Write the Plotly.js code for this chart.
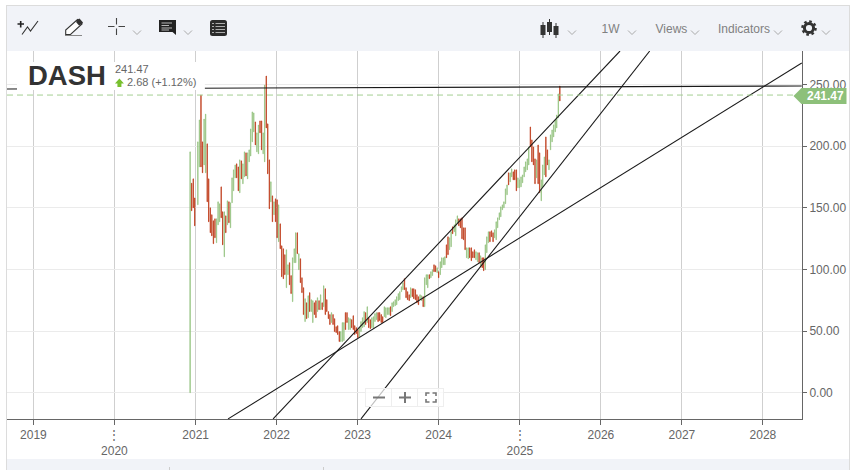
<!DOCTYPE html>
<html>
<head>
<meta charset="utf-8">
<script src="https://cdn.plot.ly/plotly-3.0.1.min.js"></script>
<style>
html,body{margin:0;padding:0;background:#fff;width:858px;height:470px;overflow:hidden}
#chart{position:absolute;left:0;top:0;width:858px;height:470px}
#chrome{position:absolute;left:0;top:0;pointer-events:none}
text{font-family:"Liberation Sans",Arial,sans-serif}
</style>
</head>
<body>
<div id="chart"></div>
<svg id="chrome" width="858" height="470" viewBox="0 0 858 470">
  <!-- frame -->
  <rect x="6.5" y="5.5" width="843" height="470" fill="none" stroke="#dcdcdc"/>
  <rect x="7" y="6" width="842" height="45" fill="#f1f3f8"/>
  <rect x="7" y="459" width="842" height="11" fill="#f1f3f8"/>
  <path d="M169.5 467V470M323.5 467V470" stroke="#ccc"/>
  <!-- add indicator icon -->
  <path d="M17.5 24H24M20.7 21V27.5" stroke="#222" stroke-width="1.6"/>
  <path d="M22 34.5L27.5 27L30.5 31L38 21" fill="none" stroke="#333" stroke-width="1.1"/>
  <!-- pencil -->
  <path d="M65.7 34.5V30L77.5 19.5L82 24L70.5 34.5Z" fill="#fff" stroke="#333" stroke-width="1.1"/>
  <path d="M77.5 19.5L79.5 18.5L83 22.5L82 24L79 25.5L76 22Z" fill="#333"/>
  <path d="M65 35.5H82" stroke="#888"/>
  <!-- crosshair -->
  <path d="M116.5 18V24.5M116.5 28.5V35M108 26.5H114.5M118.5 26.5H125" stroke="#444" stroke-width="1.1"/>
  <!-- note -->
  <path d="M159 20H176V35L172.5 32H159Z" fill="#222"/>
  <path d="M161.5 23H172M161.5 25.5H169M161.5 28H172M161.5 30H169" stroke="#ddd" stroke-width=".8"/>
  <!-- table -->
  <rect x="210" y="20" width="17" height="16" rx="2.5" fill="#2b2b2b"/>
  <path d="M215.5 23.5H225M215.5 26.5H225M215.5 29.5H225M215.5 32.5H225M212 23.5H214M212 26.5H214M212 29.5H214M212 32.5H214" stroke="#bbb" stroke-width=".9"/>
  <!-- candles icon -->
  <path d="M543 22V38M549.5 19V35M556 23V38" stroke="#333" stroke-width="1"/>
  <rect x="540.5" y="25" width="5" height="10" fill="#333"/>
  <rect x="547" y="22" width="5" height="10" fill="#333"/>
  <rect x="553.5" y="26" width="5" height="9" fill="#333"/>
  <!-- chevrons -->
  <g fill="none" stroke="#aaa" stroke-width="1">
    <path d="M133 30.5L137 34.5L141 30.5"/>
    <path d="M184 30.5L188 34.5L192 30.5"/>
    <path d="M568 30.5L572 34.5L576 30.5"/>
    <path d="M628 30.5L632 34.5L636 30.5"/>
    <path d="M691 30.5L695 34.5L699 30.5"/>
    <path d="M774 30.5L778 34.5L782 30.5"/>
    <path d="M822 30.5L826 34.5L830 30.5"/>
  </g>
  <g font-size="12" fill="#808080">
    <text x="601.5" y="33">1W</text>
    <text x="655.5" y="33">Views</text>
    <text x="718" y="33">Indicators</text>
  </g>
  <!-- gear -->
  <circle cx="809" cy="28" r="4.6" fill="none" stroke="#333" stroke-width="3"/>
  <circle cx="809" cy="28" r="6.6" fill="none" stroke="#333" stroke-width="2.4" stroke-dasharray="2.6 2.58"/>
  <!-- zoom controls -->
  <rect x="365.5" y="388.5" width="78" height="18" fill="#fff" fill-opacity=".72" stroke="#eee"/>
  <path d="M391.5 388.5V406.5M417.5 388.5V406.5" stroke="#eee"/>
  <path d="M373 397.5H385M399 397.5H411M405 392V403" stroke="#777" stroke-width="2"/>
  <path d="M426 396V393H429.5M432.5 393H436V396M436 399V402H432.5M429.5 402H426V399" fill="none" stroke="#777" stroke-width="1.6"/>
</svg>
<script>
// Weekly bars (DASH, 1W)
var weeks = [
"2020-12-07","2020-12-14","2020-12-21","2020-12-28",
"2021-01-11","2021-01-18","2021-01-25","2021-02-01","2021-02-08","2021-02-15","2021-02-22","2021-03-01","2021-03-08","2021-03-15","2021-03-22","2021-03-29","2021-04-05","2021-04-12","2021-04-19","2021-04-26","2021-05-03","2021-05-10","2021-05-17","2021-05-24","2021-05-31","2021-06-07","2021-06-14","2021-06-21","2021-06-28","2021-07-05","2021-07-12","2021-07-19","2021-07-26","2021-08-02","2021-08-09","2021-08-16","2021-08-23","2021-08-30","2021-09-06","2021-09-13","2021-09-20","2021-09-27","2021-10-04","2021-10-11","2021-10-18","2021-10-25","2021-11-01","2021-11-08","2021-11-15","2021-11-22","2021-11-29","2021-12-06","2021-12-13","2021-12-20","2021-12-27",
"2022-01-03","2022-01-10","2022-01-17","2022-01-24","2022-01-31","2022-02-07","2022-02-14","2022-02-21","2022-02-28","2022-03-07","2022-03-14","2022-03-21","2022-03-28","2022-04-04","2022-04-11","2022-04-18","2022-04-25","2022-05-02","2022-05-09","2022-05-16","2022-05-23","2022-05-30","2022-06-06","2022-06-13","2022-06-20","2022-06-27","2022-07-04","2022-07-11","2022-07-18","2022-07-25","2022-08-01","2022-08-08","2022-08-15","2022-08-22","2022-08-29","2022-09-05","2022-09-12","2022-09-19","2022-09-26","2022-10-03","2022-10-10","2022-10-17","2022-10-24","2022-10-31","2022-11-07","2022-11-14","2022-11-21","2022-11-28","2022-12-05","2022-12-12","2022-12-19","2022-12-26",
"2023-01-02","2023-01-09","2023-01-16","2023-01-23","2023-01-30","2023-02-06","2023-02-13","2023-02-20","2023-02-27","2023-03-06","2023-03-13","2023-03-20","2023-03-27","2023-04-03","2023-04-10","2023-04-17","2023-04-24","2023-05-01","2023-05-08","2023-05-15","2023-05-22","2023-05-29","2023-06-05","2023-06-12","2023-06-19","2023-06-26","2023-07-03","2023-07-10","2023-07-17","2023-07-24","2023-07-31","2023-08-07","2023-08-14","2023-08-21","2023-08-28","2023-09-04","2023-09-11","2023-09-18","2023-09-25","2023-10-02","2023-10-09","2023-10-16","2023-10-23","2023-10-30","2023-11-06","2023-11-13","2023-11-20","2023-11-27","2023-12-04","2023-12-11","2023-12-18","2023-12-25",
"2024-01-01","2024-01-08","2024-01-15","2024-01-22","2024-01-29","2024-02-05","2024-02-12","2024-02-19","2024-02-26","2024-03-04","2024-03-11","2024-03-18","2024-03-25","2024-04-01","2024-04-08","2024-04-15","2024-04-22","2024-04-29","2024-05-06","2024-05-13","2024-05-20","2024-05-27","2024-06-03","2024-06-10","2024-06-17","2024-06-24","2024-07-01","2024-07-08","2024-07-15","2024-07-22","2024-07-29","2024-08-05","2024-08-12","2024-08-19","2024-08-26","2024-09-02","2024-09-09","2024-09-16","2024-09-23","2024-09-30","2024-10-07","2024-10-14","2024-10-21","2024-10-28","2024-11-04","2024-11-11","2024-11-18","2024-11-25","2024-12-02","2024-12-09","2024-12-16","2024-12-23","2024-12-30",
"2025-01-06","2025-01-13","2025-01-20","2025-01-27","2025-02-03","2025-02-10","2025-02-17","2025-02-24","2025-03-03","2025-03-10","2025-03-17","2025-03-24","2025-03-31","2025-04-07","2025-04-14","2025-04-21","2025-04-28","2025-05-05","2025-05-12","2025-05-19","2025-05-26","2025-06-02","2025-06-09","2025-06-16","2025-06-23","2025-06-30"
];
var highs = [
195.4,170,173.5,158,
203.5,221.3,241.5,203.5,222,226,201.9,173.5,150,144.4,139.5,141.1,141.1,154.9,153.3,167,146.8,146.8,143.5,155.7,154.9,154.1,174.3,180.8,184.8,185.7,183.2,188.9,188.1,185.7,195.4,194.6,194.6,197,214,227.8,227,219.7,210.8,217.2,220.5,220.5,210.8,249.6,256.9,218.1,188.9,171.1,159.7,154.9,157.3,
156.5,152.4,137,119.2,116.8,112,116,103.8,105.5,95,109.5,116.8,129.8,129.8,112.8,108.7,93.3,85.2,76.3,73,78.7,81.2,75.5,74.7,73,74.7,77.1,74.7,79.5,73,86.8,84.4,75.5,65.8,63.4,65,63.4,60.1,53.6,54.4,49.6,49.6,56.9,56.9,65,65,60.9,60.1,59.3,62.5,54.4,52.8,
51.2,52.8,57.7,60.9,65.8,65,69.8,60.9,59.3,60.9,61.7,64.2,65,65,65,63.4,61.7,69.8,69,69,69,69.8,73,73.9,75.5,77.9,80.4,82,86,89.3,92.5,85.2,82,79.5,85.2,84.4,84.4,83.6,79.5,77.9,79.5,78.7,77.9,93.3,95.8,95.8,95.8,98.2,99.8,103.8,103,101.4,
98.2,106.3,109.5,109.5,110.3,120,126.5,125.7,130.6,134.6,136.2,140.3,143.5,141.1,141.1,141.9,133.8,133.8,117.6,117.6,117.6,117.6,114.4,116,114.4,113.6,113.6,111.1,109.5,109.5,120,126.5,130.6,130.6,131.4,129.8,132.2,138.7,141.9,146,150.8,152.4,154.9,165.4,168.6,178.4,178.4,181.6,179.2,180.8,180.8,174.3,172.7,
175.1,176.7,183.2,187.3,189.7,199.4,215.6,205.1,199.4,189.7,188.9,201,194.6,172.7,184.8,191.3,207.5,197,188.9,209.2,213.2,217.3,221.3,225.3,242.4,248.8
];
var lows = [
0,147.6,150,135.4,
152.5,183.2,183.2,178.4,184.8,178.4,154.9,138.7,129.8,127.3,120.9,125.7,121.7,136.2,138.7,141.9,120,110.3,129.8,136.2,137.9,133.8,154.1,163.8,174.3,174.3,163.8,162.2,173.5,169.5,175.1,175.9,173.5,187.3,192,203.5,211.6,201,195.4,193.8,210.8,197,193.8,187.3,214.8,177.6,149.2,154.9,138.7,144.4,138.7,
125.7,122.5,116.8,94.1,92.5,95.8,85.2,95.8,87.6,80.4,73.9,105.5,105.5,112.8,99.8,89.3,81.2,63.4,57.7,60.1,60.9,65.8,65.8,56.9,63.4,60.9,65.8,67.4,67.4,67.4,69.8,63.4,65.8,60.1,55.3,56.9,55.3,49.6,48.8,47.2,41.5,41.5,41.5,42.3,51.2,56.9,51.2,51.2,52.8,51.2,47.2,48,
44.7,45.5,49.6,52.8,53.6,55.3,56.9,52.8,52,52.8,52.8,57.7,59.3,57.7,58.5,56.9,56.9,61.7,60.9,63.4,63.4,62.5,65.8,69.8,70.6,71.4,74.7,75.5,82,83.6,83.6,77.1,75.5,74.7,77.1,77.9,76.3,75.5,73,71.4,75.5,74.7,69.8,69.8,87.6,85.2,92.5,93.3,95,98.2,98.2,97.4,
93.3,95.8,101.4,103.8,103.8,109.5,112,116,118.4,129,130.6,127.3,137.9,135.4,133.8,124.9,124.1,116,109.5,108.7,109.5,107.1,109.5,109.5,107.9,106.3,105.5,102.2,101.4,99,99.8,113.6,121.7,122.5,126.5,122.5,125.7,124.1,133.8,140.3,142.7,148.4,150,153.3,160.6,168.6,171.1,175.1,172.7,172.7,163.8,166.2,166.2,
167,170.3,175.1,179.2,180.8,184.8,199.4,187.3,184.8,169.5,174.3,169.5,162.2,155.7,167,176.7,175.1,184.8,180.8,197,203.5,207.5,211.6,214.8,222.9,236.7
];
var rising = [
1,0,0,0,
1,1,0,0,1,1,0,0,0,0,0,0,1,1,1,0,0,1,0,1,0,1,1,1,1,0,0,1,0,1,1,0,1,1,1,1,1,0,1,1,0,0,1,1,0,0,0,1,0,1,0,
0,1,0,0,0,0,1,1,0,0,1,1,1,0,1,0,0,0,1,0,1,0,1,1,0,0,1,0,1,0,1,0,0,0,0,1,0,0,0,0,0,1,1,1,0,0,1,1,0,0,0,0,
0,1,1,1,1,0,1,0,0,1,1,1,1,0,0,0,0,1,1,1,1,0,1,1,1,1,1,1,1,1,0,0,0,0,1,0,0,0,0,0,1,1,0,1,1,1,0,1,1,0,0,1,
0,1,1,1,1,0,0,1,1,0,1,1,1,0,0,0,0,0,1,1,0,0,0,0,1,1,0,1,0,0,1,1,1,0,0,0,1,1,1,1,1,1,1,1,1,0,1,1,0,0,0,1,1,
1,1,1,1,1,1,0,0,0,0,1,0,0,1,1,1,0,0,1,1,1,1,1,1,1,0
];
var lastPrice = 241.47;
var change = "2.68 (+1.12%)";
var symbol = "DASH";

// Drawn trend lines
var channelUpperX = ["2021-12-16","2026-03-28"], channelUpperY = [-21.2,277.2];
var channelLowerX = ["2023-01-16","2026-08-09"], channelLowerY = [-21.2,277.2];
var supportX = ["2021-05-27","2028-06-24"], supportY = [-21.2,267.5];
var resistanceX = ["2018-09-04","2028-06-24"], resistanceY = [246.4,248.8];

// Axis ticks
var xTickDates = ["2019-01-01","2020-01-01","2021-01-01","2022-01-01","2023-01-01","2024-01-01","2025-01-01","2026-01-01","2027-01-01","2028-01-01"];
var xTickLabels = ["2019","⋮<br>2020","2021","2022","2023","2024","⋮<br>2025","2026","2027","2028"];
var yTickValues = [0,50,100,150,200,250];

var opens = highs.map(function(h,i){return rising[i]?lows[i]:h;});
var closes = highs.map(function(h,i){return rising[i]?h:lows[i];});

var GREEN="#8fbf78", RED="#bb2f0c";
function line(x,y){return {type:"scatter",mode:"lines",x:x,y:y,line:{color:"#1a1a1a",width:1.1},hoverinfo:"skip",showlegend:false};}

var traces=[
 {type:"candlestick",x:weeks,open:opens,high:highs,low:lows,close:closes,whiskerwidth:0,
  increasing:{line:{color:GREEN,width:0.6},fillcolor:GREEN},
  decreasing:{line:{color:RED,width:0.6},fillcolor:RED},
  hoverinfo:"skip",showlegend:false},
 line(channelUpperX,channelUpperY),
 line(channelLowerX,channelLowerY),
 line(supportX,supportY),
 line(resistanceX,resistanceY),
 {type:"scatter",mode:"lines",x:[resistanceX[0],resistanceX[1]],y:[lastPrice,lastPrice],
  line:{color:"#a5cf92",width:1,dash:"6px,4px"},hoverinfo:"skip",showlegend:false}
];

// pixel → paper helpers for page furniture only
var L=7,R=802.5,T=51,B=419.5;
function px(x){return (x-L)/(R-L);}
function py(y){return (B-y)/(B-T);}
function note(text,x,y,size,color,bold,anchor){
  return {text:bold?"<b>"+text+"</b>":text,xref:"paper",yref:"paper",x:px(x),y:py(y),xanchor:anchor||"left",yanchor:"middle",
    showarrow:false,font:{family:"Liberation Sans, Arial, sans-serif",size:size,color:color},align:"left"};
}
function P(x,y){return px(x).toFixed(5)+" "+py(y).toFixed(5);}

var layout={
 width:858,height:470,
 margin:{l:L,r:858-R,t:T,b:470-B,pad:0},
 paper_bgcolor:"#fff",plot_bgcolor:"#fff",showlegend:false,boxgap:0.6,
 font:{family:"Liberation Sans, Arial, sans-serif",size:12,color:"#666"},
 xaxis:{type:"date",range:["2018-09-04","2028-06-25"],tickmode:"array",tickvals:xTickDates,ticktext:xTickLabels,
   showgrid:true,gridcolor:"#cfcfcf",gridwidth:1,ticks:"outside",ticklen:5,tickcolor:"#666",
   showline:true,linecolor:"#666",linewidth:1,zeroline:false,rangeslider:{visible:false},fixedrange:true,
   tickfont:{size:12,color:"#666"},tickangle:0},
 yaxis:{side:"right",range:[-21.3,277.2],tickmode:"array",tickvals:yTickValues,tickformat:".2f",
   showgrid:true,gridcolor:"#ebebeb",gridwidth:1,ticks:"outside",ticklen:4,tickcolor:"#666",
   showline:true,linecolor:"#666",linewidth:1,zeroline:false,fixedrange:true,tickfont:{size:12,color:"#666"}},
 shapes:[
  {type:"rect",xref:"paper",yref:"paper",x0:px(17),x1:px(205),y0:py(90),y1:py(62),fillcolor:"#fff",line:{width:0},layer:"above"},
  {type:"path",xref:"paper",yref:"paper",layer:"above",
   path:"M"+P(794,96)+"L"+P(802,88)+"L"+P(847,88)+"L"+P(847,104)+"L"+P(802,104)+"Z",fillcolor:"#8dc07a",line:{width:0}},
  {type:"path",xref:"paper",yref:"paper",layer:"above",
   path:"M"+P(119.5,78.5)+"L"+P(124,83.5)+"L"+P(121.5,83.5)+"L"+P(121.5,87)+"L"+P(117.5,87)+"L"+P(117.5,83.5)+"L"+P(115,83.5)+"Z",fillcolor:"#78c02e",line:{width:0}}
 ],
 annotations:[
  note(symbol,26,76,27.5,"#333",true),
  note(lastPrice.toFixed(2),113.5,69,11,"#666",false),
  note(change,125,82,11,"#666",false),
  note(lastPrice.toFixed(2),806,96,12,"#fff",true)
 ]
};
Plotly.newPlot("chart",traces,layout,{displayModeBar:false,staticPlot:true,responsive:false});
</script>
</body>
</html>
